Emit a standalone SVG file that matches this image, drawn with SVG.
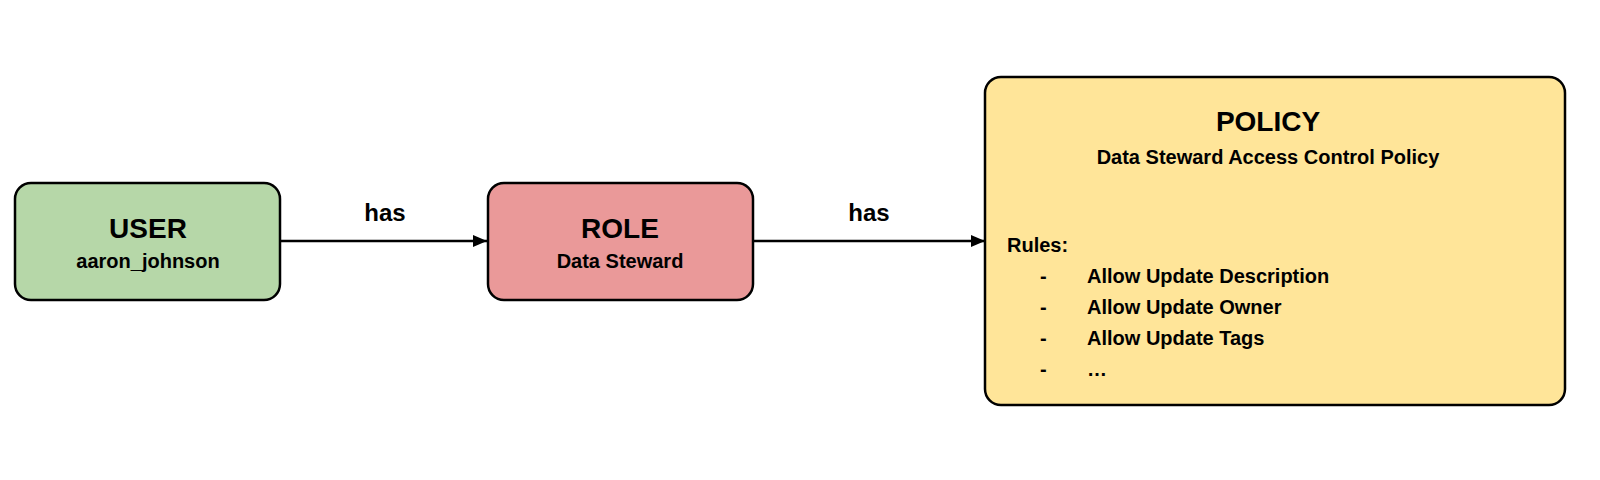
<svg xmlns="http://www.w3.org/2000/svg" width="1600" height="480" viewBox="0 0 1600 480">
<style>
.b{stroke:#000;stroke-width:2.5}
text{font-family:"Liberation Sans",Arial,sans-serif;font-weight:bold;fill:#000}
.t{font-size:28px;text-anchor:middle}
.s{font-size:20px;text-anchor:middle}
.l{font-size:24px;text-anchor:middle}
.r{font-size:20px}
</style>
<defs><marker id="a" markerWidth="14" markerHeight="12" refX="14" refY="6" orient="auto" markerUnits="userSpaceOnUse"><path d="M0,0L14,6L0,12z" fill="#000"/></marker></defs>
<rect width="1600" height="480" fill="#fff"/>
<g id="connectors">
<line x1="280" y1="241" x2="487" y2="241" stroke="#000" stroke-width="2.5" marker-end="url(#a)"/>
<text class="l" x="385" y="221">has</text>
<line x1="753" y1="241" x2="985" y2="241" stroke="#000" stroke-width="2.5" marker-end="url(#a)"/>
<text class="l" x="869" y="221">has</text>
</g>
<g id="user"><rect class="b" x="15" y="183" width="265" height="117" rx="16" fill="#b6d7a8"/>
<text class="t" x="148" y="238">USER</text><text class="s" x="148" y="268">aaron_johnson</text></g>
<g id="role"><rect class="b" x="488" y="183" width="265" height="117" rx="16" fill="#ea9999"/>
<text class="t" x="620" y="238">ROLE</text><text class="s" x="620" y="268">Data Steward</text></g>
<g id="policy"><rect class="b" x="985" y="77" width="580" height="328" rx="16" fill="#ffe599"/>
<text class="t" x="1268" y="131">POLICY</text><text class="s" x="1268" y="164">Data Steward Access Control Policy</text>
<text class="r" x="1007" y="252">Rules:</text>
<text class="r" x="1040" y="283">-</text><text class="r" x="1087" y="283">Allow Update Description</text>
<text class="r" x="1040" y="314">-</text><text class="r" x="1087" y="314">Allow Update Owner</text>
<text class="r" x="1040" y="345">-</text><text class="r" x="1087" y="345">Allow Update Tags</text>
<text class="r" x="1040" y="376">-</text><text class="r" x="1087" y="376">…</text>
</g>
</svg>
